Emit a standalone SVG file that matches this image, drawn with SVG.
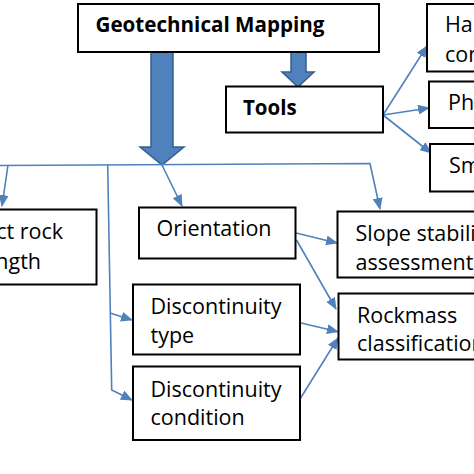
<svg xmlns="http://www.w3.org/2000/svg" width="474" height="474" viewBox="0 0 474 474">
<style>
.box{fill:#fff;stroke:#000;stroke-width:2}
.t{font-family:"Open Sans","DejaVu Sans",sans-serif;font-size:21.5px;fill:#000}
.b{font-family:"Open Sans","DejaVu Sans",sans-serif;font-weight:bold;fill:#000}
.c{fill:none;stroke:#4F81BD;stroke-width:1.6}
.big{fill:#4F81BD;stroke:#385D8A;stroke-width:1.5}
</style>
<defs>
<marker id="ah" viewBox="0 0 12 10" refX="11" refY="5" markerWidth="12" markerHeight="10" markerUnits="userSpaceOnUse" orient="auto">
<path d="M0,0 L12,5 L0,10 z" fill="#4F81BD"/>
</marker>
</defs>
<rect width="474" height="474" fill="#fff"/>
<g id="connectors">
<polygon class="big" points="151,52 173,52 173,147 184,147 162,165 140,147 151,147"/>
<polygon class="big" points="291,52 306,52 306,72 314,72 298,87 282,72 291,72"/>
<polyline class="c" points="0,165.5 370,163.5 380,209" marker-end="url(#ah)"/>
<line class="c" x1="8" y1="165" x2="2" y2="206" marker-end="url(#ah)"/>
<line class="c" x1="162" y1="165" x2="182" y2="206" marker-end="url(#ah)"/>
<polyline class="c" points="107.7,164.5 111.7,390 132,400" marker-end="url(#ah)"/>
<polyline class="c" points="110,313 132,320" marker-end="url(#ah)"/>
<line class="c" x1="296" y1="233" x2="337" y2="243" marker-end="url(#ah)"/>
<line class="c" x1="296.5" y1="240" x2="336" y2="309" marker-end="url(#ah)"/>
<line class="c" x1="300" y1="322.7" x2="338" y2="331.7" marker-end="url(#ah)"/>
<line class="c" x1="300" y1="399" x2="338" y2="338" marker-end="url(#ah)"/>
<line class="c" x1="383" y1="115" x2="427" y2="46" marker-end="url(#ah)"/>
<line class="c" x1="383" y1="115" x2="429" y2="108" marker-end="url(#ah)"/>
<line class="c" x1="383" y1="115" x2="431" y2="153" marker-end="url(#ah)"/>
</g>
<g id="geotechnical-mapping">
<rect class="box" x="78" y="4" width="301" height="48"/>
<text class="b" x="95.5" y="32" font-size="20.6">Geotechnical Mapping</text>
</g>
<g id="tools">
<rect class="box" x="226" y="86.5" width="157" height="46"/>
<text class="b" x="243" y="115" font-size="20.5">Tools</text>
</g>
<g id="tool-ha">
<rect class="box" x="427" y="4" width="60" height="67.5"/>
<text class="t" x="445" y="32">Ha</text>
<text class="t" x="445" y="62">com</text>
</g>
<g id="tool-ph">
<rect class="box" x="429" y="81.5" width="60" height="46.5"/>
<text class="t" x="448" y="110">Ph</text>
</g>
<g id="tool-sm">
<rect class="box" x="430" y="144" width="60" height="47.5"/>
<text class="t" x="449" y="173">Sm</text>
</g>
<g id="intact-rock-strength">
<rect class="box" x="-10" y="209.5" width="106.5" height="75"/>
<text class="t" x="63" y="238.5" text-anchor="end">Intact rock</text>
<text class="t" x="41" y="268.5" text-anchor="end">strength</text>
</g>
<g id="orientation">
<rect class="box" x="139" y="207.5" width="156.5" height="51"/>
<text class="t" x="156.5" y="236">Orientation</text>
</g>
<g id="slope-stability">
<rect class="box" x="337.5" y="211.5" width="150" height="66"/>
<text class="t" x="355.5" y="240.5">Slope stability</text>
<text class="t" x="355.5" y="269.5">assessment</text>
</g>
<g id="discontinuity-type">
<rect class="box" x="133" y="284.5" width="167" height="70"/>
<text class="t" x="150.5" y="314">Discontinuity</text>
<text class="t" x="150.5" y="342.5">type</text>
</g>
<g id="discontinuity-condition">
<rect class="box" x="133" y="366.5" width="167" height="73.5"/>
<text class="t" x="150.5" y="396.5">Discontinuity</text>
<text class="t" x="150.5" y="425">condition</text>
</g>
<g id="rockmass-classification">
<rect class="box" x="338.5" y="293.5" width="150" height="66"/>
<text class="t" x="357" y="322.5">Rockmass</text>
<text class="t" x="357" y="351">classification</text>
</g>
</svg>
